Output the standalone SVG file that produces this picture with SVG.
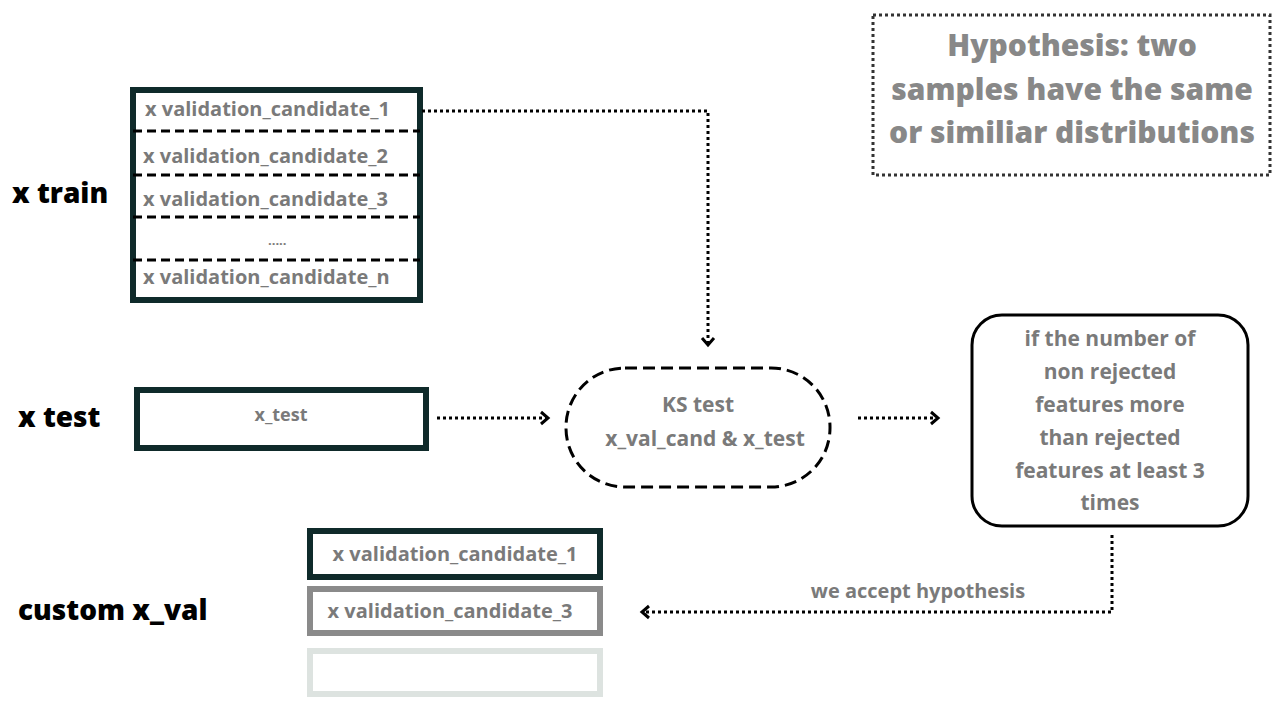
<svg xmlns="http://www.w3.org/2000/svg" width="1280" height="721" viewBox="0 0 1280 721">
<style>
text{font-family:"Open Sans","Liberation Sans",sans-serif;font-weight:700;fill:#7a7a7a}
.t{font-size:20px}
.m{font-size:21px;text-anchor:middle}
.h{font-size:30px;font-weight:800;fill:#888;text-anchor:middle}
.lbl{font-weight:800;fill:#000;font-size:28px}
.sep{stroke:#000;stroke-width:3;stroke-dasharray:9,5}
.con{fill:none;stroke:#000;stroke-width:3;stroke-dasharray:3,3}
</style>
<defs>
<marker id="a" markerWidth="14" markerHeight="16" refX="10" refY="8" orient="auto" markerUnits="userSpaceOnUse">
<path d="M3,2 L10,8 L3,14" fill="none" stroke="#000" stroke-width="3" stroke-dasharray="none"/>
</marker>
</defs>
<rect width="1280" height="721" fill="#fff"/>
<text class="lbl" x="12" y="203">x train</text>
<text class="lbl" x="18" y="427">x test</text>
<text class="lbl" x="18" y="620">custom x_val</text>
<g id="xtrain">
<rect x="133" y="90" width="287" height="210" fill="#fff" stroke="#0f2a2a" stroke-width="6"/>
<line class="sep" x1="133" y1="131" x2="420" y2="131"/>
<line class="sep" x1="133" y1="175" x2="420" y2="175"/>
<line class="sep" x1="133" y1="217" x2="420" y2="217"/>
<line class="sep" x1="133" y1="260" x2="420" y2="260"/>
<text class="t" x="145" y="116">x validation_candidate_1</text>
<text class="t" x="143" y="163">x validation_candidate_2</text>
<text class="t" x="143" y="206">x validation_candidate_3</text>
<text class="t" x="268" y="245" style="font-size:13px">.....</text>
<text class="t" x="143" y="284">x validation_candidate_n</text>
</g>
<g id="xtest">
<rect x="137" y="390" width="289" height="58" fill="#fff" stroke="#0f2a2a" stroke-width="6"/>
<text class="t" x="281" y="421" text-anchor="middle" style="font-size:18px">x_test</text>
</g>
<g id="ks">
<rect x="566" y="368" width="264" height="119" rx="59" fill="#fff" stroke="#000" stroke-width="3" stroke-dasharray="12,6"/>
<text class="m" x="698" y="412">KS test</text>
<text class="m" x="705" y="446">x_val_cand &amp; x_test</text>
</g>
<g id="cond">
<rect x="972" y="315" width="276" height="211" rx="30" fill="#fff" stroke="#000" stroke-width="3"/>
<text class="m" x="1110" y="346">if the number of</text>
<text class="m" x="1110" y="379">non rejected</text>
<text class="m" x="1110" y="412">features more</text>
<text class="m" x="1110" y="445">than rejected</text>
<text class="m" x="1110" y="478">features at least 3</text>
<text class="m" x="1110" y="510">times</text>
</g>
<g id="hyp">
<rect x="873" y="15" width="397" height="160" fill="#fff" stroke="#333" stroke-width="3" stroke-dasharray="3,3"/>
<text class="h" x="1072" y="56">Hypothesis: two</text>
<text class="h" x="1072" y="100">samples have the same</text>
<text class="h" x="1072" y="143">or similiar distributions</text>
</g>
<g id="custom">
<rect x="310" y="531" width="290" height="46" fill="#fff" stroke="#0f2a2a" stroke-width="6"/>
<text class="t" x="455" y="561" text-anchor="middle">x validation_candidate_1</text>
<rect x="310" y="589" width="290" height="44" fill="#fff" stroke="#8a8a8a" stroke-width="6"/>
<text class="t" x="450" y="618" text-anchor="middle">x validation_candidate_3</text>
<rect x="310" y="651" width="290" height="43" fill="#fff" stroke="#dde3e0" stroke-width="6"/>
</g>
<g id="connectors">
<path class="con" d="M422,111 H708 V345" marker-end="url(#a)"/>
<path class="con" d="M437,418 H548" marker-end="url(#a)"/>
<path class="con" d="M858,418 H938" marker-end="url(#a)"/>
<path class="con" d="M1112,535 V612 H642" marker-end="url(#a)"/>
<text class="m" x="918" y="598" style="font-size:20px">we accept hypothesis</text>
</g>
</svg>
